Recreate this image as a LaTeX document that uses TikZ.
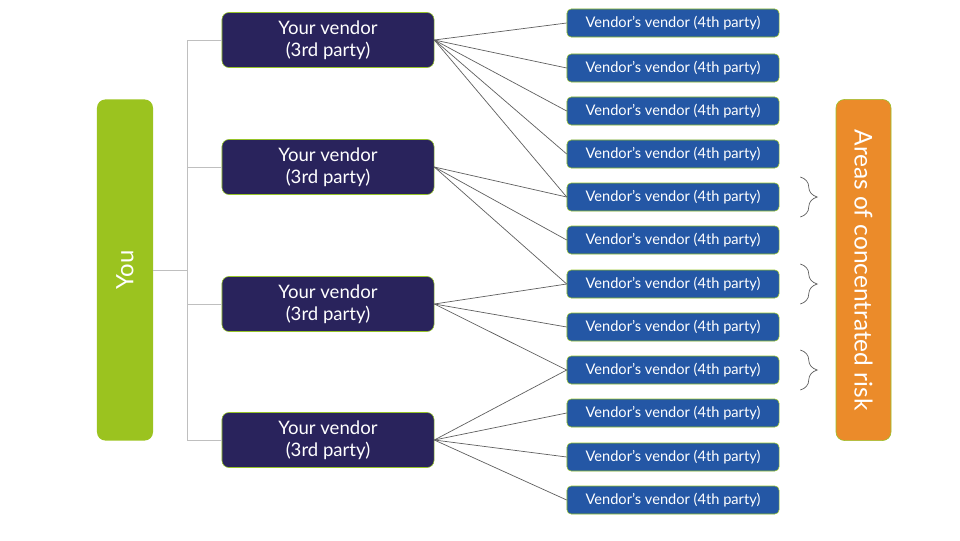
\documentclass[tikz,border=0pt]{standalone}
\usepackage{fontspec}
\setmainfont{Lato}
\usetikzlibrary{decorations.pathreplacing,calc}
\definecolor{yougreen}{RGB}{155,195,31}
\definecolor{vendnavy}{RGB}{41,35,92}
\definecolor{fourblue}{RGB}{36,87,165}
\definecolor{riskorange}{RGB}{235,139,42}
\definecolor{edgegreen}{RGB}{150,195,40}
\definecolor{treegray}{RGB}{191,191,191}
\definecolor{linkgray}{RGB}{95,95,95}

\begin{document}
\begin{tikzpicture}[x=0.025cm,y=-0.025cm]
\tikzset{
  YO/.style={fill=yougreen,rectangle,minimum width=1.4cm,minimum height=8.525cm,rounded corners=6pt,text=white,font=\fontsize{17}{19}\selectfont,inner sep=0pt},
  RK/.style={draw=edgegreen,fill=riskorange,rectangle,minimum width=1.375cm,minimum height=8.525cm,rounded corners=6pt,text=white,font=\fontsize{17.4}{19}\selectfont,inner sep=0pt},
  VN/.style={draw=edgegreen,fill=vendnavy,rectangle,minimum width=5.3cm,minimum height=1.375cm,rounded corners=5pt,text=white,align=center,font=\fontsize{13.2}{15.6}\selectfont,inner sep=0pt},
  FP/.style={draw=edgegreen,fill=fourblue,rectangle,minimum width=5.3cm,minimum height=0.7cm,rounded corners=3pt,text=white,font=\fontsize{10.4}{12}\selectfont,inner sep=0pt},
  FL/.style={linkgray,line width=0.5pt},
  TR/.style={treegray,line width=0.7pt},
  BR/.style={linkgray,line width=0.5pt,decorate,decoration={brace,amplitude=12pt,aspect=0.5}},
}
\useasboundingbox (0,0) rectangle (960,540);

\node[YO](you) at (125,270){\rotatebox{90}{You}};
\node[RK](risk) at (863.5,270){\rotatebox{-90}{Areas of concentrated risk}};

\node[VN](v1) at (328,40){Your vendor\\(3rd party)};
\node[VN](v2) at (328,167){Your vendor\\(3rd party)};
\node[VN](v3) at (328,304){Your vendor\\(3rd party)};
\node[VN](v4) at (328,440){Your vendor\\(3rd party)};

\node[FP](f1)  at (673,23){Vendor’s vendor (4th party)};
\node[FP](f2)  at (673,68){Vendor’s vendor (4th party)};
\node[FP](f3)  at (673,111){Vendor’s vendor (4th party)};
\node[FP](f4)  at (673,154){Vendor’s vendor (4th party)};
\node[FP](f5)  at (673,197){Vendor’s vendor (4th party)};
\node[FP](f6)  at (673,240){Vendor’s vendor (4th party)};
\node[FP](f7)  at (673,284){Vendor’s vendor (4th party)};
\node[FP](f8)  at (673,327){Vendor’s vendor (4th party)};
\node[FP](f9)  at (673,370){Vendor’s vendor (4th party)};
\node[FP](f10) at (673,413){Vendor’s vendor (4th party)};
\node[FP](f11) at (673,457){Vendor’s vendor (4th party)};
\node[FP](f12) at (673,500){Vendor’s vendor (4th party)};

% you -> 3rd parties
\coordinate (trunk) at (187,270);
\draw[TR](you.east)--(trunk);
\draw[TR](v1.west)-|(trunk);
\draw[TR](v2.west)-|(trunk);
\draw[TR](v3.west)-|(trunk);
\draw[TR](v4.west)-|(trunk);

% 3rd parties -> 4th parties
\draw[FL](v1.east)--(f1.west);
\draw[FL](v1.east)--(f2.west);
\draw[FL](v1.east)--(f3.west);
\draw[FL](v1.east)--(f4.west);
\draw[FL](v1.east)--(f5.west);
\draw[FL](v2.east)--(f5.west);
\draw[FL](v2.east)--(f6.west);
\draw[FL](v2.east)--(f7.west);
\draw[FL](v3.east)--(f7.west);
\draw[FL](v3.east)--(f8.west);
\draw[FL](v3.east)--(f9.west);
\draw[FL](v4.east)--(f9.west);
\draw[FL](v4.east)--(f10.west);
\draw[FL](v4.east)--(f11.west);
\draw[FL](v4.east)--(f12.west);

% shared 4th parties
\draw[BR]($(f5.east)+(21,-20)$)--($(f5.east)+(21,20)$);
\draw[BR]($(f7.east)+(21,-20)$)--($(f7.east)+(21,20)$);
\draw[BR]($(f9.east)+(21,-20)$)--($(f9.east)+(21,20)$);

\end{tikzpicture}
\end{document}
